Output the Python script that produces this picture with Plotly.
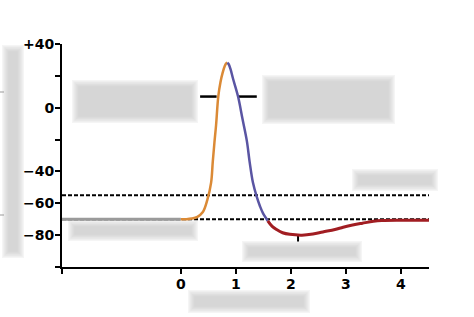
import plotly.graph_objects as go

# ---- data (membrane potential, mV vs time, ms) ----
x_range = [-2.16, 4.51]
y_range = [-100, 40]

y_tickvals = [-100, -80, -60, -40, -20, 0, 20, 40]
y_ticktext = ["", "−80", "−60", "−40", "", "0", "", "+40"]
x_tickvals = [-2.16, 0, 1, 2, 3, 4]
x_ticktext = ["", "0", "1", "2", "3", "4"]

rest_x = [-2.16, 0.0]
rest_y = [-70, -70]

rise_x = [0.0, 0.1, 0.2, 0.3, 0.4, 0.48, 0.55, 0.58, 0.61, 0.64, 0.68, 0.72, 0.76, 0.8, 0.825, 0.845]
rise_y = [-70, -70, -69.6, -68.5, -65.5, -58, -47, -34, -22, -11, 7, 16, 22, 26.3, 27.8, 28.3]

fall_x = [0.845, 0.865, 0.9, 0.95, 1.04, 1.12, 1.2, 1.25, 1.31, 1.38, 1.44, 1.49, 1.58]
fall_y = [28.3, 27.6, 24.5, 18, 7, -7, -21, -34, -47, -56, -62, -66, -71]

hyper_x = [1.58, 1.66, 1.74, 1.85, 1.98, 2.2, 2.4, 2.58, 2.8, 2.95, 3.1, 3.3, 3.5, 3.65, 4.0, 4.51]
hyper_y = [-71, -74.5, -76.5, -78.5, -79.5, -80, -79.3, -78, -76.5, -75, -73.8, -72.5, -71.3, -70.8, -70.6, -70.6]

threshold = -55
resting = -70
peak_marker_y = 7
peak_marker_segments = [[0.35, 0.65], [1.05, 1.38]]
min_marker_x = 2.13
min_marker_y = [-80, -84]

fig = go.Figure()

W, H = 474, 317
ML, MR, MT, MB = 62, 45, 44, 50
PW, PH = W - ML - MR, H - MT - MB


def px_x(p):
    return (p - ML) / PW


def px_y(p):
    return (H - MB - p) / PH


# blurred placeholder label boxes (pixel rectangles)
boxes = [
    (2, 45, 24, 258),
    (72, 80, 198, 123),
    (262, 75, 395, 124),
    (352, 169, 438, 191),
    (68, 220, 198, 241),
    (242, 241, 362, 262),
    (188, 290, 310, 313),
]
shapes = []
for (x0, y0, x1, y1) in boxes:
    nlay = 6
    for k in range(nlay):
        ins = k * 1.3
        if x1 - x0 - 2 * ins < 4 or y1 - y0 - 2 * ins < 4:
            break
        shapes.append(dict(
            type="rect", xref="paper", yref="paper", layer="below",
            x0=px_x(x0 + ins), x1=px_x(x1 - ins),
            y0=px_y(y1 - ins), y1=px_y(y0 + ins),
            line=dict(width=0), fillcolor="rgba(195,195,195,0.16)",
        ))
# tiny gray marks at far left
for py in (92, 215):
    shapes.append(dict(type="line", xref="paper", yref="paper",
                       x0=px_x(0), x1=px_x(4), y0=px_y(py), y1=px_y(py),
                       line=dict(color="#999999", width=1)))

# dotted threshold / resting lines
for yv in (threshold, resting):
    fig.add_trace(go.Scatter(x=x_range, y=[yv, yv], mode="lines",
                             line=dict(color="black", width=2, dash="4px,2px"),
                             hoverinfo="skip", showlegend=False))

# peak marker segments
for seg in peak_marker_segments:
    fig.add_trace(go.Scatter(x=seg, y=[peak_marker_y, peak_marker_y], mode="lines",
                             line=dict(color="black", width=2.5),
                             hoverinfo="skip", showlegend=False))

# minimum marker
fig.add_trace(go.Scatter(x=[min_marker_x, min_marker_x], y=min_marker_y, mode="lines",
                         line=dict(color="black", width=2),
                         hoverinfo="skip", showlegend=False))

fig.add_trace(go.Scatter(x=rest_x, y=rest_y, mode="lines",
                         line=dict(color="#9a9a9a", width=3), showlegend=False))
fig.add_trace(go.Scatter(x=rise_x, y=rise_y, mode="lines", line_shape="spline",
                         line=dict(color="#DB8A36", width=2.5), showlegend=False))
fig.add_trace(go.Scatter(x=fall_x, y=fall_y, mode="lines", line_shape="spline",
                         line=dict(color="#5A55A3", width=2.5), showlegend=False))
fig.add_trace(go.Scatter(x=hyper_x, y=hyper_y, mode="lines", line_shape="spline",
                         line=dict(color="#A11D22", width=3), showlegend=False))

tickfont = dict(family="DejaVu Sans", size=14, color="black", weight="bold")

fig.update_layout(
    width=W, height=H,
    margin=dict(l=ML, r=MR, t=MT, b=MB),
    paper_bgcolor="white", plot_bgcolor="white",
    shapes=shapes,
    xaxis=dict(range=x_range, showgrid=False, zeroline=False,
               showline=True, linecolor="black", linewidth=2,
               ticks="outside", ticklen=5, tickwidth=2, tickcolor="black",
               ticklabelstandoff=-2,
               tickvals=x_tickvals, ticktext=x_ticktext, tickfont=tickfont),
    yaxis=dict(range=y_range, showgrid=False, zeroline=False,
               showline=True, linecolor="black", linewidth=2,
               ticks="outside", ticklen=5, tickwidth=2, tickcolor="black",
               ticklabelstandoff=-2,
               tickvals=y_tickvals, ticktext=y_ticktext, tickfont=tickfont),
)

fig.write_html("out.html")
